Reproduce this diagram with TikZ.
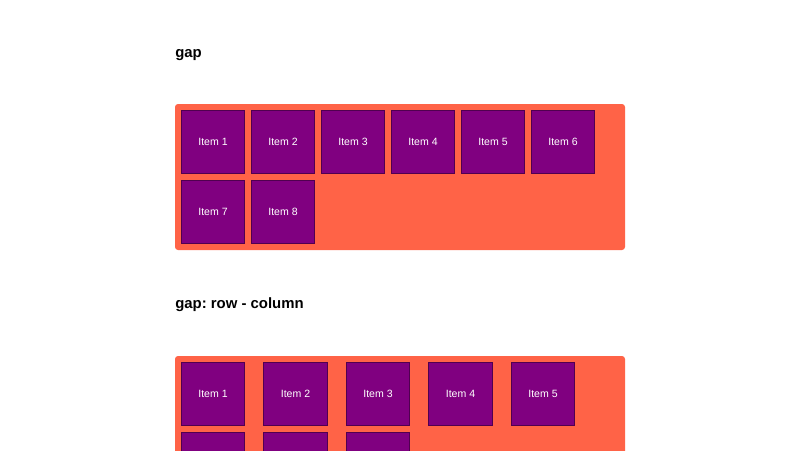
\documentclass[tikz,border=0pt]{standalone}
\usepackage{fontspec}
\setmainfont{Liberation Sans}
\frenchspacing
\definecolor{tomatobg}{RGB}{255,99,71}
\definecolor{itempurple}{RGB}{128,0,128}
\definecolor{itemborder}{RGB}{80,0,80}
\tikzset{
  container/.style={fill=tomatobg, rounded corners=0.075cm},
  item/.style={draw=itemborder, fill=itempurple, line width=0.025cm,
    minimum size=1.575cm, inner sep=0pt, text=white,
    font=\fontsize{7.5}{8}\selectfont},
  title/.style={anchor=base west, inner sep=0pt, font=\fontsize{10.6}{12}\selectfont\bfseries}
}
\begin{document}
\begin{tikzpicture}[x=0.025cm, y=-0.025cm]
% Set the page size (one unit is one pixel)
\useasboundingbox (0,0) rectangle (800,450);
\clip (0,0) rectangle (800,450);

% First container: gap
\node[title] (gaptitle) at (175,57) {gap};
\fill[container] (175,104) rectangle (625,250);
\node[item] (a1) at (213,142) {Item 1};
\node[item] (a2) at (283,142) {Item 2};
\node[item] (a3) at (353,142) {Item 3};
\node[item] (a4) at (423,142) {Item 4};
\node[item] (a5) at (493,142) {Item 5};
\node[item] (a6) at (563,142) {Item 6};
\node[item] (a7) at (213,212) {Item 7};
\node[item] (a8) at (283,212) {Item 8};

% Second container: gap: row - column
\node[title] (rowcoltitle) at (175,308) {gap: row - column};
\fill[container] (175,356) rectangle (625,540);
\node[item] (b1) at (213,394) {Item 1};
\node[item] (b2) at (295.5,394) {Item 2};
\node[item] (b3) at (378,394) {Item 3};
\node[item] (b4) at (460.5,394) {Item 4};
\node[item] (b5) at (543,394) {Item 5};
\node[item] (b6) at (213,464) {};
\node[item] (b7) at (295.5,464) {};
\node[item] (b8) at (378,464) {};
\end{tikzpicture}
\end{document}
